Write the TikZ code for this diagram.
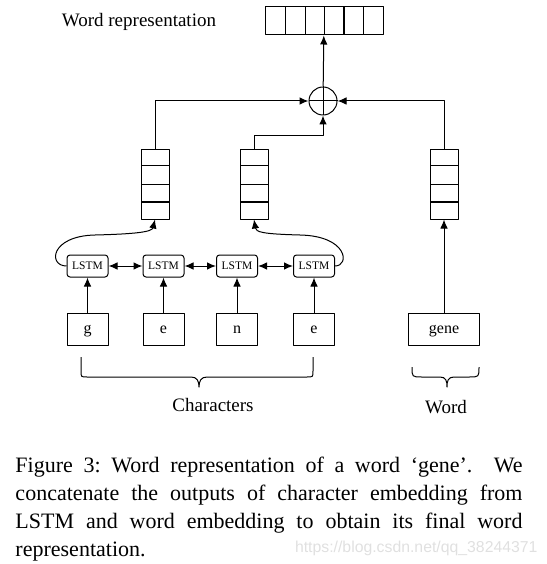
\documentclass[tikz,border=0pt]{standalone}
\usepackage{fontspec}
\setmainfont{Liberation Serif}
\setsansfont{Liberation Sans}
\usetikzlibrary{arrows.meta}
\begin{document}
\begin{tikzpicture}[x=1pt, y=-1pt, >={Latex[length=9pt,width=7.5pt]}, line width=1pt, line join=round,
	box/.style={draw, minimum width=41pt, minimum height=32pt, inner sep=0pt, text height=8pt, text depth=0pt, font=\fontsize{16}{16}\selectfont},
	lstm/.style={draw, rounded corners=3pt, minimum width=41pt, minimum height=22pt, inner sep=0pt, font=\fontsize{11.5}{11.5}\selectfont},
	vec/.style={draw, minimum width=28pt, minimum height=69pt, inner sep=0pt},
	lbl/.style={font=\fontsize{19}{19}\selectfont, inner sep=0pt}]
		\useasboundingbox (0,0) rectangle (546,564);
		\node[lbl] (title) at (139,22) {Word representation};
		\node[draw, minimum width=118pt, minimum height=28pt, inner sep=0pt] (out) at (324,21) {};
		\foreach \x in {285,305,324,363} \draw (\x,7) -- (\x,35);
		\draw[line width=2pt] (344,7) -- (344,35);
		\node[draw, circle, minimum size=28pt, inner sep=0pt] (plus) at (323,101) {};
		\draw (plus.north) -- (plus.south) (plus.west) -- (plus.east);
		\draw[->] (plus) -- (out);
		% three embedding stacks
		\foreach \x/\n in {155/sL, 254/sM, 444/sW} {
			\node[vec] (\n) at (\x,184.5) {};
			\draw (\x-14,166) -- (\x+14,166) (\x-14,184) -- (\x+14,184);
			\draw[line width=2pt] (\x-14,202) -- (\x+14,202);
		}
		\draw[->] (sL.north) |- (plus.west);
		\draw[->] (sW.north) |- (plus.east);
		\draw[->] (sM.north) -- ++(0,-14) -| (plus.south);
		% characters and LSTM cells
		\foreach \i/\x/\c in {1/87.5/g, 2/163.5/e, 3/237/n, 4/314/e} {
			\node[lstm] (l\i) at (\x,266) {LSTM};
			\node[box] (c\i) at (\x,329) {\c};
			\draw[->] (c\i) -- (l\i);
		}
		\draw[<->] (l1) -- (l2);
		\draw[<->] (l2) -- (l3);
		\draw[<->] (l3) -- (l4);
		\draw[->] (l1.west) .. controls (48,266) and (50,236) .. (95,235) .. controls (135,234) and (152,232) .. (sL.south);
		\draw[->] (l4.east) .. controls (350,266) and (348,236) .. (300,235) .. controls (262,234) and (256,232) .. (sM.south);
		% word
		\node[box, minimum width=71pt] (gene) at (444,329) {gene};
		\draw[->] (gene) -- (sW);
		% braces
		\draw (81,357) -- (81,371) .. controls (81,377) .. (87,377) -- (191,377) .. controls (197,377) and (199,381) .. (199,387) .. controls (199,381) and (201,377) .. (207,377) -- (307,377) .. controls (313,377) .. (313,371) -- (313,357);
		\draw (412,367) .. controls (412,377) .. (422,377) -- (440,377) .. controls (446,377) and (447,381) .. (447,387) .. controls (447,381) and (448,377) .. (454,377) -- (469,377) .. controls (479,377) .. (479,367);
		\node[lbl] (chars) at (213,405) {Characters};
		\node[lbl] (word) at (446,407) {Word};
		% caption
		\node[anchor=north west, inner sep=0pt, text width=507pt, align=justify, font=\fontsize{22}{27.7}\selectfont] (caption) at (15,457) {Figure 3:\ Word representation of a word ‘gene’.\ \ We\linebreak concatenate the outputs of character embedding from\linebreak LSTM and word embedding to obtain its final word\linebreak representation.};
		\node[anchor=base east, inner sep=0pt, text=black!12, font=\sffamily\fontsize{15.8}{15.8}\selectfont] (mark) at (538,552) {https://blog.csdn.net/qq\_38244371};
\end{tikzpicture}
\end{document}
